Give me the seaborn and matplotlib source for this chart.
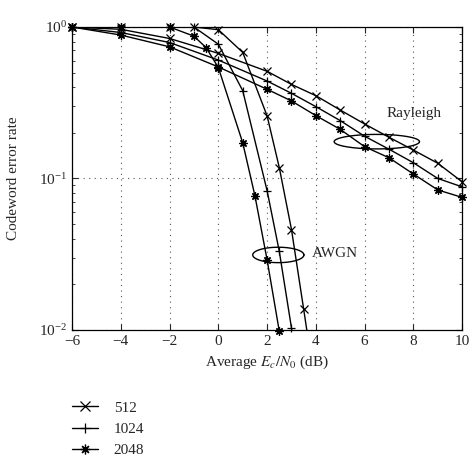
import numpy as np
import pandas as pd
import seaborn as sns
import matplotlib
matplotlib.use("Agg")
from matplotlib import pyplot as plt
from matplotlib.lines import Line2D

# AWGN curves
awgn_512_x = [-6, -4, -2, -1, 0, 1, 2, 2.5, 3, 3.5, 4]
awgn_512_y = [1.0, 1.0, 1.0, 1.0, 0.96, 0.68, 0.259, 0.118, 0.046, 0.0137, 0.004]
awgn_1024_x = [-6, -4, -2, -1, 0, 1, 2, 2.5, 3, 3.5]
awgn_1024_y = [1.0, 1.0, 1.0, 1.0, 0.77, 0.38, 0.083, 0.033, 0.0103, 0.003]
awgn_2048_x = [-6, -4, -2, -1, -0.5, 0, 1, 1.5, 2, 2.5]
awgn_2048_y = [1.0, 1.0, 1.0, 0.87, 0.73, 0.54, 0.172, 0.077, 0.029, 0.0098]

# Rayleigh curves
ray_x = [-6, -4, -2, 0, 2, 3, 4, 5, 6, 7, 8, 9, 10]
ray_512_y = [1.0, 0.966, 0.84, 0.67, 0.51, 0.418, 0.352, 0.283, 0.229, 0.187, 0.154, 0.126, 0.095]
ray_1024_y = [1.0, 0.92, 0.79, 0.605, 0.44, 0.365, 0.298, 0.241, 0.19, 0.156, 0.127, 0.100, 0.088]
ray_2048_y = [1.0, 0.885, 0.74, 0.545, 0.388, 0.325, 0.26, 0.211, 0.162, 0.137, 0.107, 0.084, 0.075]

lengths = ["512", "1024", "2048"]
marker_for = {"512": "x", "1024": "+", "2048": (8, 2, 0)}

sns.set_style("ticks")
plt.rcParams["font.family"] = ["Liberation Serif", "DejaVu Serif"]
plt.rcParams["mathtext.fontset"] = "stix"
plt.rcParams["font.size"] = 11

series = [
    ("AWGN", "512", awgn_512_x, awgn_512_y),
    ("AWGN", "1024", awgn_1024_x, awgn_1024_y),
    ("AWGN", "2048", awgn_2048_x, awgn_2048_y),
    ("Rayleigh", "512", ray_x, ray_512_y),
    ("Rayleigh", "1024", ray_x, ray_1024_y),
    ("Rayleigh", "2048", ray_x, ray_2048_y),
]

fig = plt.figure(figsize=(4.74, 4.74), dpi=100)
ax = fig.add_axes([0.152, 0.304, 0.823, 0.639])

for channel, n, xs, ys in series:
    df = pd.DataFrame({"snr": xs, "rate": ys})
    # line, clipped at the axes
    sns.lineplot(data=df, x="snr", y="rate", ax=ax, color="black", lw=1.0,
                 estimator=None, sort=False)
    # markers that fall inside the y range, not clipped
    shown = df[df.rate >= 0.0095]
    sns.lineplot(data=shown, x="snr", y="rate", ax=ax, color="black",
                 linestyle="", marker=marker_for[n], markersize=6,
                 markeredgewidth=0.9, markeredgecolor="black",
                 estimator=None, sort=False, clip_on=False)

ax.set_yscale("log")
ax.set_xlim(-6, 10)
ax.set_ylim(1e-2, 1)
ax.set_xticks(np.arange(-6, 11, 2))
ax.set_xticklabels([str(v).replace("-", "\u2212") for v in range(-6, 11, 2)])
ax.set_xlabel(r"Average $E_c/N_0$ (dB)", fontsize=11, labelpad=4)
ax.set_ylabel("Codeword error rate", fontsize=11, labelpad=14)

ax.grid(True, which="major", color="#555555", linestyle=(0, (1, 4)), lw=0.8)
ax.tick_params(which="both", direction="in", top=True, right=True, labelsize=11)
ax.tick_params(which="major", length=4)
ax.tick_params(which="minor", length=2.5)
for s in ax.spines.values():
    s.set_color("black")
    s.set_linewidth(0.9)

# ellipses around the curve groups
t = np.linspace(0, 2 * np.pi, 200)
ax.plot(6.5 + 1.75 * np.cos(t), 10 ** (-0.757 + 0.048 * np.sin(t)), color="black", lw=1.0)
ax.plot(2.46 + 1.05 * np.cos(t), 10 ** (-1.505 + 0.051 * np.sin(t)), color="black", lw=1.0)
ax.text(6.91, 0.269, "Rayleigh", fontsize=11, va="center", ha="left")
ax.text(3.83, 0.032, "AWGN", fontsize=11, va="center", ha="left")

handles = [
    Line2D([], [], color="black", lw=1.0, marker=marker_for[n], markersize=7,
           markeredgewidth=0.9)
    for n in lengths
]
fig.legend(handles, lengths, loc="upper left", bbox_to_anchor=(0.151, 0.154),
           frameon=False, fontsize=11, handlelength=1.75, handletextpad=1.0,
           labelspacing=0.5, borderpad=0, borderaxespad=0)

fig.savefig("out.png", dpi=100)
